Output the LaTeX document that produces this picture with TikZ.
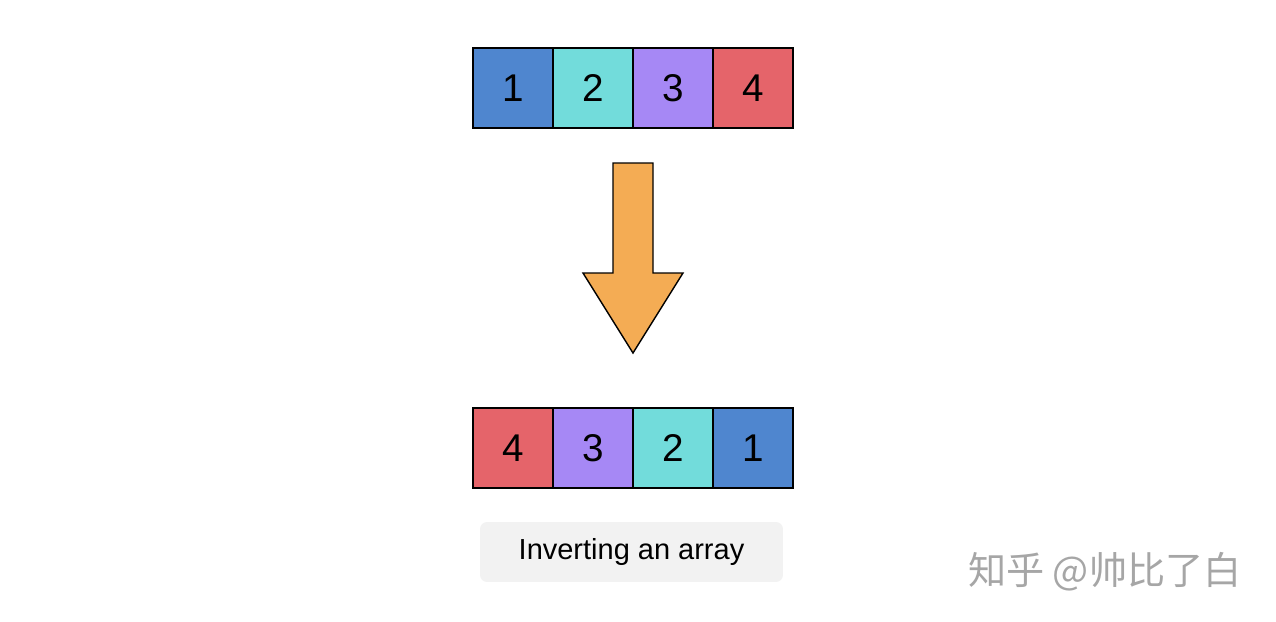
\documentclass[tikz,border=0pt]{standalone}
\usepackage{fontspec}
\setmainfont{Liberation Sans}
\newfontfamily\cjk{Noto Sans CJK SC}
\definecolor{cb}{HTML}{4F86CF}
\definecolor{cc}{HTML}{72DCDB}
\definecolor{cp}{HTML}{A688F5}
\definecolor{cr}{HTML}{E5646A}
\definecolor{co}{HTML}{F4AC54}
\begin{document}
\begin{tikzpicture}[x=0.02cm,y=-0.02cm,
  cell/.style={draw=black,line width=1.2pt,minimum width=1.6cm,minimum height=1.6cm,inner sep=0,font=\fontsize{22}{26}\selectfont}]
\useasboundingbox (0,0) rectangle (1276,622);
\foreach \c/\t [count=\i] in {cb/1,cc/2,cp/3,cr/4}
  \node[cell,fill=\c] (t\i) at (433+80*\i,88) {\t};
\foreach \c/\t [count=\i] in {cr/4,cp/3,cc/2,cb/1}
  \node[cell,fill=\c] (b\i) at (433+80*\i,448) {\t};
\draw[fill=co,line width=0.8pt] (613,163) -- (653,163) -- (653,273) -- (683,273) -- (633,353) -- (583,273) -- (613,273) -- cycle;
\node[fill=black!5,rounded corners=4pt,minimum width=6.06cm,minimum height=1.2cm,font=\fontsize{16.5}{20}\selectfont] (cap) at (631.5,552) {Inverting an array};
\node[text=black!35,font=\cjk\fontsize{21.7}{25}\selectfont,anchor=west] (wm) at (962,572) {知乎 @帅比了白};
\end{tikzpicture}
\end{document}
